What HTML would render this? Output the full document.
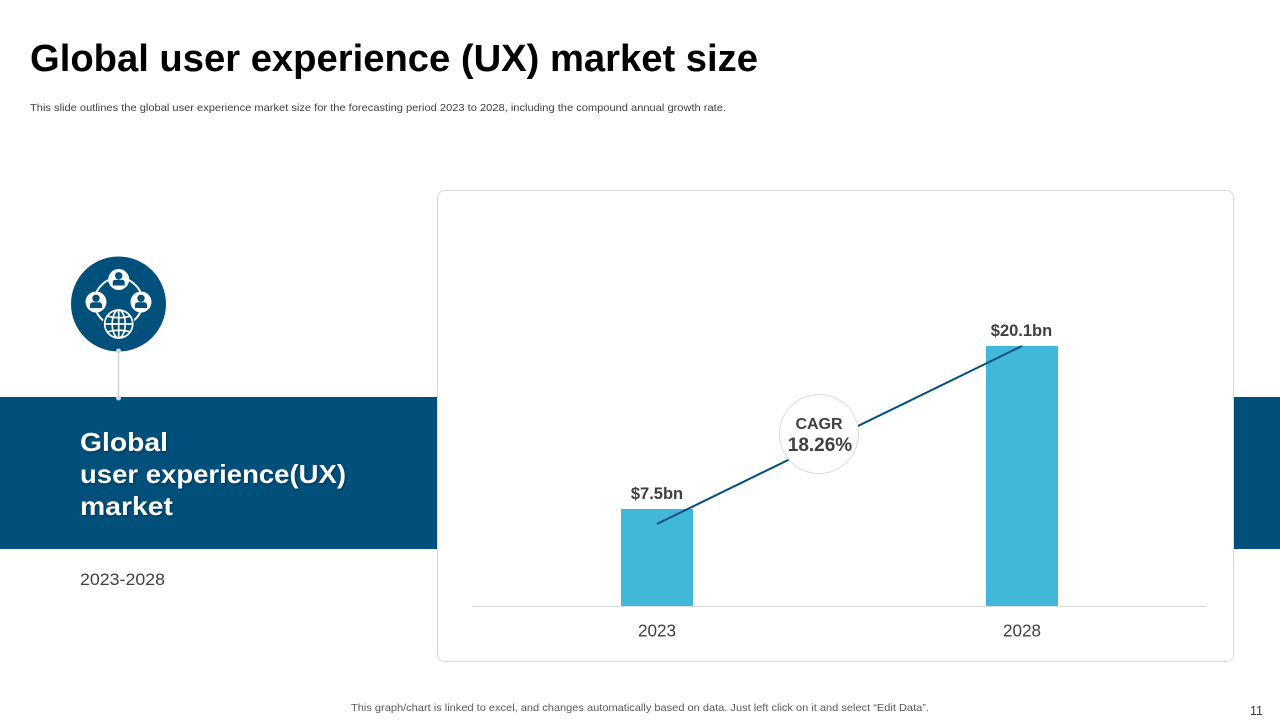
<!DOCTYPE html>
<html lang="en">
<head>
<meta charset="utf-8">
<title>Global user experience (UX) market size</title>
<style>
html,body{margin:0;padding:0;background:#fff;width:1280px;height:720px;overflow:hidden}
svg{display:block}
text{font-family:"Liberation Sans",sans-serif}
</style>
</head>
<body>
<svg id="slide" width="1280" height="720" viewBox="0 0 1280 720" xmlns="http://www.w3.org/2000/svg">
  <rect x="0" y="0" width="1280" height="720" fill="#ffffff"/>
  <text x="30" y="71" font-size="38" font-weight="700" fill="#000000" textLength="728" lengthAdjust="spacingAndGlyphs">Global user experience (UX) market size</text>
  <text x="30" y="111" font-size="10.500" fill="#404040" textLength="696" lengthAdjust="spacingAndGlyphs">This slide outlines the global user experience market size for the forecasting period 2023 to 2028, including the compound annual growth rate.</text>

  <rect x="0" y="397" width="437" height="152" fill="#01507c"/>
  <rect x="1234" y="397" width="46" height="152" fill="#01507c"/>

  <g font-size="26" font-weight="700" fill="#ffffff" style="filter:drop-shadow(1px 1px 1px rgba(0,0,0,0.35))">
    <text x="80" y="451" textLength="88" lengthAdjust="spacingAndGlyphs">Global</text>
    <text x="80" y="483" textLength="266" lengthAdjust="spacingAndGlyphs">user experience(UX)</text>
    <text x="80" y="515" textLength="93" lengthAdjust="spacingAndGlyphs">market</text>
  </g>
  <text x="80" y="585" font-size="17" fill="#404040" textLength="85" lengthAdjust="spacingAndGlyphs">2023-2028</text>

  <g>
    <line x1="118.500" y1="350" x2="118.500" y2="398" stroke="#d0d3d6" stroke-width="1.500"/>
    <circle cx="118.500" cy="304" r="47.500" fill="#01507c"/>
    <circle cx="118.500" cy="351" r="2.500" fill="#cfd8de"/>
    <circle cx="118.500" cy="398" r="2.500" fill="#cfd8de"/>
    <circle cx="118.500" cy="302" r="24" fill="none" stroke="#ffffff" stroke-width="2"/>
    <g>
      <circle cx="118.700" cy="279.500" r="10.500" fill="#ffffff"/>
      <circle cx="118.700" cy="275.800" r="3.700" fill="#01507c"/>
      <path d="M112.700 285.500 v-2.800 q0-3 3-3 h6 q3 0 3 3 v2.800 z" fill="#01507c"/>
    </g>
    <g>
      <circle cx="96" cy="302" r="10.500" fill="#ffffff"/>
      <circle cx="96" cy="298.300" r="3.700" fill="#01507c"/>
      <path d="M90 308 v-2.800 q0-3 3-3 h6 q3 0 3 3 v2.800 z" fill="#01507c"/>
    </g>
    <g>
      <circle cx="141" cy="302" r="10.500" fill="#ffffff"/>
      <circle cx="141" cy="298.300" r="3.700" fill="#01507c"/>
      <path d="M135 308 v-2.800 q0-3 3-3 h6 q3 0 3 3 v2.800 z" fill="#01507c"/>
    </g>
    <g fill="none" stroke="#ffffff" stroke-width="1.700">
      <circle cx="118.700" cy="324" r="15.500" fill="#01507c" stroke="#01507c" stroke-width="1"/>
      <circle cx="118.700" cy="324" r="14"/>
      <ellipse cx="118.700" cy="324" rx="6.500" ry="14"/>
      <line x1="118.700" y1="310" x2="118.700" y2="338"/>
      <line x1="104.700" y1="324" x2="132.700" y2="324"/>
      <path d="M107.200 316 q11.500 3.500 23 0"/>
      <path d="M107.200 332 q11.500 -3.500 23 0"/>
    </g>
  </g>

  <rect x="437.500" y="190.500" width="796" height="471" rx="7" ry="7" fill="#ffffff" stroke="#d9d9d9" stroke-width="1"/>
  <g id="chart"></g>

  <text x="351" y="711" font-size="10.500" fill="#595959" textLength="578" lengthAdjust="spacingAndGlyphs">This graph/chart is linked to excel, and changes automatically based on data. Just left click on it and select “Edit Data”.</text>
  <text x="1250" y="715" font-size="12.500" fill="#404040">11</text>
</svg>

<script>
const categories = ['2023', '2028'];
const marketSizeBn = [7.5, 20.1];
const valueLabels = ['$7.5bn', '$20.1bn'];
const cagrTitle = 'CAGR';
const cagrValue = '18.26%';

const svgNS = 'http://www.w3.org/2000/svg';
const chart = document.getElementById('chart');
const plotBaseline = 606;
const pxPerBn = 260 / 20.1;
const firstCenter = 657;
const categoryStep = 365;
const barWidth = 72;

function xScale(index) {
  return firstCenter + index * categoryStep;
}
function yScale(value) {
  return plotBaseline - value * pxPerBn;
}
function make(tag, attrs) {
  const el = document.createElementNS(svgNS, tag);
  for (const key in attrs) el.setAttribute(key, attrs[key]);
  chart.appendChild(el);
  return el;
}

const axis = make('line', {x1: 473, y1: plotBaseline + 0.5, x2: 1206, y2: plotBaseline + 0.5, stroke: '#d9d9d9', 'stroke-width': 1});



categories.forEach(function (category, i) {
  const top = yScale(marketSizeBn[i]);
  const bar = make('rect', {x: xScale(i) - barWidth / 2, y: top, width: barWidth, height: plotBaseline - top, fill: '#41b8d9'});
  
  

  const tick = make('text', {x: xScale(i), y: 636.500, 'text-anchor': 'middle', 'font-size': 17.500, fill: '#404040', textLength: 38, lengthAdjust: 'spacingAndGlyphs'});
  tick.textContent = category;
  
  

  const label = make('text', {x: xScale(i) - (i === 0 ? 0 : 0.500), y: top - 10, 'text-anchor': 'middle', 'font-size': 16.500, 'font-weight': 700, fill: '#404040'});
  label.textContent = valueLabels[i];
  
  
});

const lastIndex = categories.length - 1;
const trend = make('line', {
  x1: xScale(0),
  y1: yScale(marketSizeBn[0]) + 15,
  x2: xScale(lastIndex),
  y2: yScale(marketSizeBn[lastIndex]),
  stroke: '#01507c',
  'stroke-width': 2
});



const badge = make('circle', {cx: 819, cy: 434, r: 39.500, fill: '#ffffff', stroke: '#dcdcdc', 'stroke-width': 1});



const badgeTitle = make('text', {x: 819, y: 429, 'text-anchor': 'middle', 'font-size': 16, 'font-weight': 700, fill: '#404040'});
badgeTitle.textContent = cagrTitle;



const badgeValue = make('text', {x: 820, y: 451, 'text-anchor': 'middle', 'font-size': 19, 'font-weight': 700, fill: '#404040'});
badgeValue.textContent = cagrValue;


</script>
</body>
</html>
